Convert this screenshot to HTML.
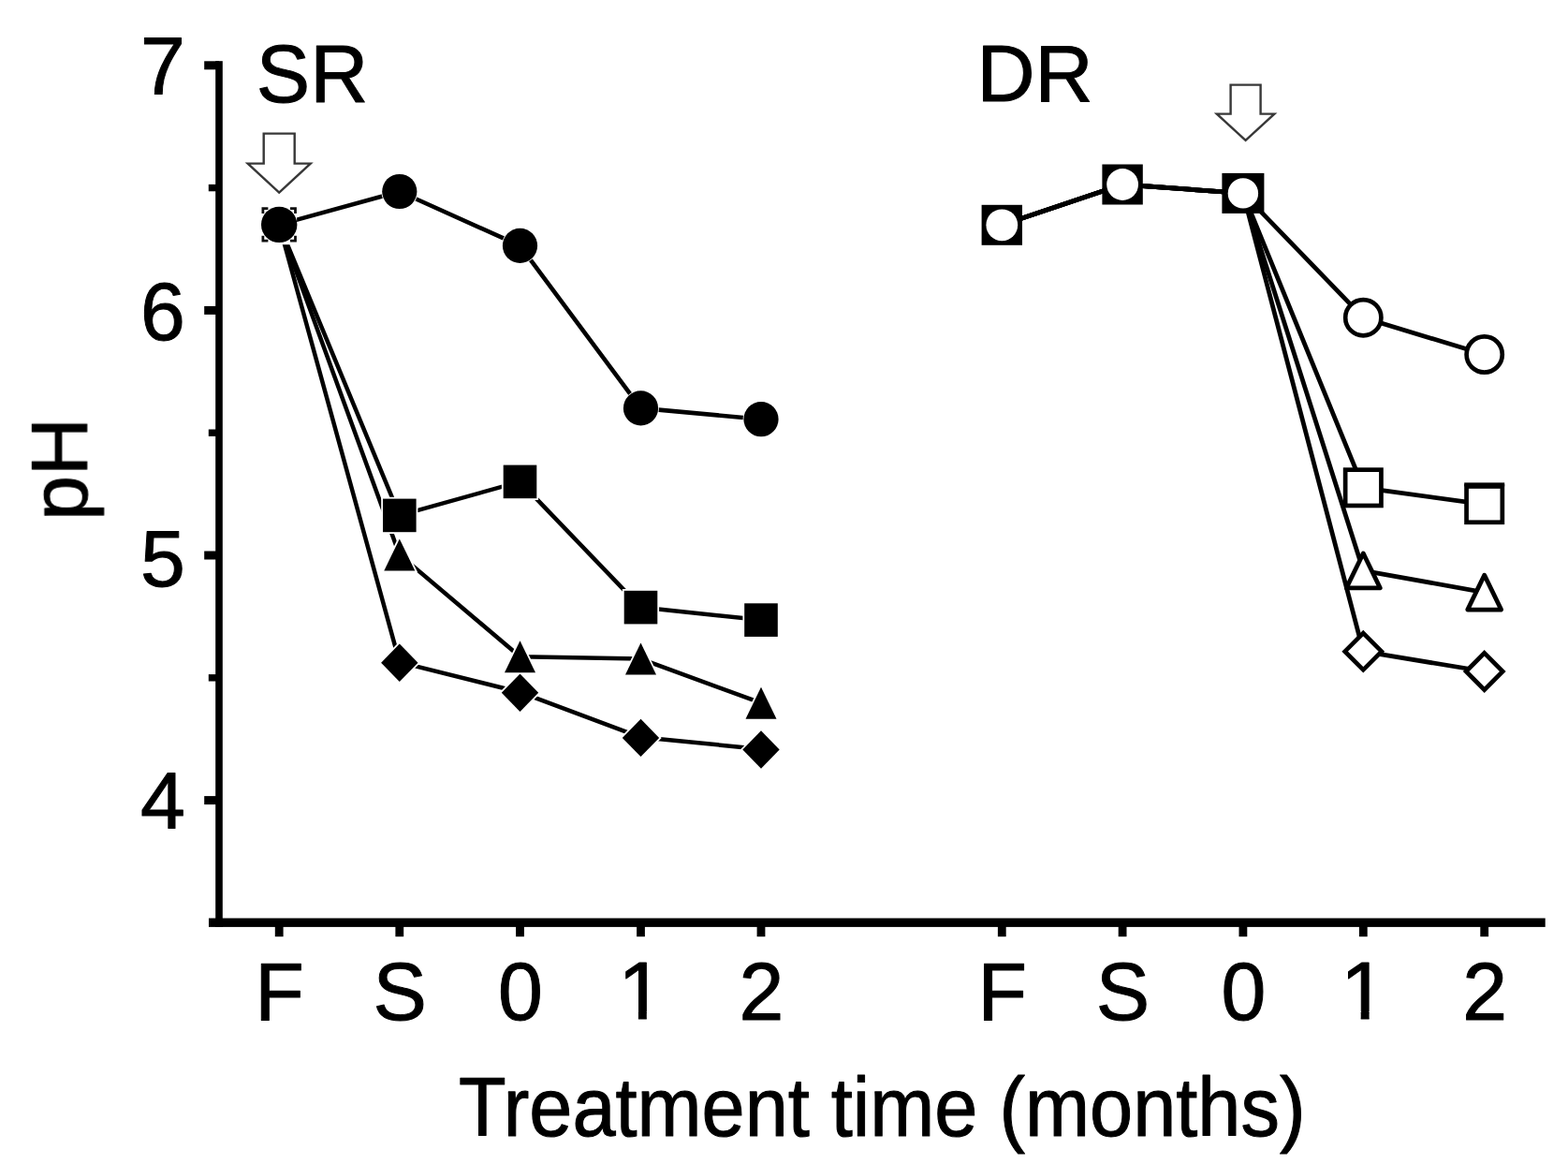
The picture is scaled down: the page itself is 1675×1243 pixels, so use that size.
<!DOCTYPE html>
<html lang="en"><head><meta charset="utf-8"><title>pH vs treatment time</title>
<style>
html,body{margin:0;padding:0;background:#fff;}
body{width:1675px;height:1243px;overflow:hidden;}
svg{display:block;}
text{font-family:"Liberation Sans",Arial,Helvetica,sans-serif;font-size:86px;fill:#000;stroke:#000;stroke-width:1px;stroke-linejoin:round;}
</style></head><body>
<svg width="1675" height="1243" viewBox="0 0 1675 1243">
<rect x="0" y="0" width="1675" height="1243" fill="#fff"/>
<g id="chart" filter="url(#soft)">
<g fill="#000">
<rect x="230.2" y="65.2" width="7.6" height="924.7"/>
<rect x="223" y="980.5" width="1427.7" height="9.4"/>
<rect x="218.2" y="65.3" width="15.8" height="9"/>
<rect x="218.2" y="326.9" width="15.8" height="9"/>
<rect x="218.2" y="588.5" width="15.8" height="9"/>
<rect x="218.2" y="850.1" width="15.8" height="9"/>
<rect x="222.8" y="196.9" width="11.2" height="7.4"/>
<rect x="222.8" y="458.5" width="11.2" height="7.4"/>
<rect x="222.8" y="720.1" width="11.2" height="7.4"/>
<rect x="293.8" y="985.2" width="8.8" height="15"/>
<rect x="422.4" y="985.2" width="8.8" height="15"/>
<rect x="551.1" y="985.2" width="8.8" height="15"/>
<rect x="680.1" y="985.2" width="8.8" height="15"/>
<rect x="808.6" y="985.2" width="8.8" height="15"/>
<rect x="1065.9" y="985.2" width="8.8" height="15"/>
<rect x="1194.7" y="985.2" width="8.8" height="15"/>
<rect x="1323.5" y="985.2" width="8.8" height="15"/>
<rect x="1451.9" y="985.2" width="8.8" height="15"/>
<rect x="1581.3" y="985.2" width="8.8" height="15"/>
</g>
<g>
<text transform="translate(173.8 101) scale(1 1.01)" text-anchor="middle">7</text>
<text transform="translate(173.8 363.3) scale(1 1.02)" text-anchor="middle">6</text>
<text transform="translate(173.8 625.5) scale(1 1)" text-anchor="middle">5</text>
<text transform="translate(173.8 884.1) scale(1 1)" text-anchor="middle">4</text>
<text transform="translate(298.6 1088.6) scale(1 1.02)" text-anchor="middle">F</text>
<text transform="translate(427.2 1088.6) scale(1 1.02)" text-anchor="middle">S</text>
<text transform="translate(555.9 1088.6) scale(1 1.02)" text-anchor="middle">0</text>
<text transform="translate(684.8 1088.3) scale(1.03 1.02)" text-anchor="middle" clip-path="url(#one)">1</text>
<text transform="translate(813.4 1088.6) scale(1 1.02)" text-anchor="middle">2</text>
<text transform="translate(1070.7 1088.6) scale(1 1.02)" text-anchor="middle">F</text>
<text transform="translate(1199.5 1088.6) scale(1 1.02)" text-anchor="middle">S</text>
<text transform="translate(1328.3 1088.6) scale(1 1.02)" text-anchor="middle">0</text>
<text transform="translate(1456.6 1088.3) scale(1.03 1.02)" text-anchor="middle" clip-path="url(#one)">1</text>
<text transform="translate(1586.1 1088.6) scale(1 1.02)" text-anchor="middle">2</text>
<text transform="translate(942.3 1212.8) scale(1 1.07)" text-anchor="middle" style="font-size:82.9px">Treatment time (months)</text>
<text transform="translate(333.5 108.8) scale(1 1.02)" text-anchor="middle">SR</text>
<text transform="translate(1105.6 108.4) scale(1 1)" text-anchor="middle">DR</text>
<text transform="translate(92.8 500.8) rotate(-90) scale(1 1)" text-anchor="middle">pH</text>
</g>
<polygon points="281.7,142.6 314.7,142.6 314.7,174.6 331.7,174.6 298.2,205.6 264.7,174.6 281.7,174.6" fill="#fff" stroke="#383838" stroke-width="2.4" stroke-linejoin="miter"/>
<polygon points="1314.6,90.6 1346.6,90.6 1346.6,121.6 1361.35,121.6 1330.6,149.8 1299.85,121.6 1314.6,121.6" fill="#fff" stroke="#383838" stroke-width="2.4" stroke-linejoin="miter"/>
<g id="sr">
<polyline points="298.2,239.9 426.8,707.1 555.5,739.2 684.5,787.3 813,799.9" fill="none" stroke="#000" stroke-width="4.5" stroke-linejoin="round"/>
<polyline points="298.2,239.9 426.8,592.4 555.5,701.2 684.5,703.6 813,750.7" fill="none" stroke="#000" stroke-width="4.5" stroke-linejoin="round"/>
<polyline points="298.2,239.9 426.8,550.4 555.5,514.4 684.5,648.6 813,662.1" fill="none" stroke="#000" stroke-width="4.5" stroke-linejoin="round"/>
<polyline points="298.2,239.9 426.8,204.5 555.5,262.4 684.5,435.9 813,447.7" fill="none" stroke="#000" stroke-width="4.6" stroke-linejoin="round"/>
<rect x="277.9" y="219.6" width="39.2" height="41.6" fill="#fff"/>
<rect x="280.9" y="222.6" width="34.6" height="34.6" fill="none" stroke="#111" stroke-width="2.8" stroke-dasharray="11 23.6" stroke-dashoffset="5.5"/>
<circle cx="298.2" cy="239.9" r="19.2" fill="#000"/>
<polygon points="426.8,687.5 446.5,707.7 426.8,727.9 407.1,707.7" fill="#000" stroke="#fff" stroke-width="3.6" paint-order="stroke"/>
<polygon points="555.5,719.6 575.2,739.8 555.5,760 535.8,739.8" fill="#000" stroke="#fff" stroke-width="3.6" paint-order="stroke"/>
<polygon points="684.5,767.7 704.2,787.9 684.5,808.1 664.8,787.9" fill="#000" stroke="#fff" stroke-width="3.6" paint-order="stroke"/>
<polygon points="813,780.3 832.7,800.5 813,820.7 793.3,800.5" fill="#000" stroke="#fff" stroke-width="3.6" paint-order="stroke"/>
<polygon points="426.8,575.4 443.3,609.4 410.3,609.4" fill="#000" stroke="#fff" stroke-width="3.6" paint-order="stroke"/>
<polygon points="555.5,684.2 572,718.2 539,718.2" fill="#000" stroke="#fff" stroke-width="3.6" paint-order="stroke"/>
<polygon points="684.5,686.6 701,720.6 668,720.6" fill="#000" stroke="#fff" stroke-width="3.6" paint-order="stroke"/>
<polygon points="813,733.7 829.5,767.7 796.5,767.7" fill="#000" stroke="#fff" stroke-width="3.6" paint-order="stroke"/>
<rect x="409" y="532.6" width="35.6" height="35.6" fill="#000" stroke="#fff" stroke-width="3.6" paint-order="stroke"/>
<rect x="537.7" y="496.6" width="35.6" height="35.6" fill="#000" stroke="#fff" stroke-width="3.6" paint-order="stroke"/>
<rect x="666.7" y="630.8" width="35.6" height="35.6" fill="#000" stroke="#fff" stroke-width="3.6" paint-order="stroke"/>
<rect x="795.2" y="644.3" width="35.6" height="35.6" fill="#000" stroke="#fff" stroke-width="3.6" paint-order="stroke"/>
<circle cx="426.8" cy="204.5" r="18.6" fill="#000" stroke="#fff" stroke-width="1.6" paint-order="stroke"/>
<circle cx="555.5" cy="262.4" r="18.6" fill="#000" stroke="#fff" stroke-width="1.6" paint-order="stroke"/>
<circle cx="684.5" cy="435.9" r="18.6" fill="#000" stroke="#fff" stroke-width="1.6" paint-order="stroke"/>
<circle cx="813" cy="447.7" r="18.6" fill="#000" stroke="#fff" stroke-width="1.6" paint-order="stroke"/>
</g>
<g id="dr">
<polyline points="1070.3,240.3 1199.1,197 1327.9,206.4 1456.3,695.7 1585.7,717" fill="none" stroke="#000" stroke-width="4.8" stroke-linejoin="round"/>
<polyline points="1070.3,240.3 1199.1,197 1327.9,206.4 1456.3,609.4 1585.7,632.6" fill="none" stroke="#000" stroke-width="4.8" stroke-linejoin="round"/>
<polyline points="1070.3,240.3 1199.1,197 1327.9,206.4 1456.3,520.8 1585.7,538.6" fill="none" stroke="#000" stroke-width="4.8" stroke-linejoin="round"/>
<polyline points="1070.3,240.3 1199.1,197 1327.9,206.4 1456.3,339.2 1585.7,378.5" fill="none" stroke="#000" stroke-width="4.8" stroke-linejoin="round"/>
<rect x="1048.6" y="218.8" width="43.4" height="43" fill="#000"/>
<circle cx="1070.3" cy="240.3" r="16.9" fill="#fff"/>
<rect x="1177.4" y="175.5" width="43.4" height="43" fill="#000"/>
<circle cx="1199.1" cy="197" r="16.9" fill="#fff"/>
<rect x="1305.4" y="184.9" width="45" height="43" fill="#000"/>
<circle cx="1327.9" cy="206.4" r="16.2" fill="#fff"/>
<polygon points="1456.3,676.1 1475.9,695.7 1456.3,715.3 1436.7,695.7" fill="#fff" stroke="#000" stroke-width="4.7" stroke-linejoin="miter"/>
<polygon points="1585.7,697.4 1605.3,717 1585.7,736.6 1566.1,717" fill="#fff" stroke="#000" stroke-width="4.7" stroke-linejoin="miter"/>
<polygon points="1456.3,590.9 1474.3,627.9 1438.3,627.9" fill="#fff" stroke="#000" stroke-width="4.7" stroke-linejoin="round"/>
<polygon points="1585.7,614.1 1603.7,651.1 1567.7,651.1" fill="#fff" stroke="#000" stroke-width="4.7" stroke-linejoin="round"/>
<rect x="1437.15" y="501.65" width="38.3" height="38.3" fill="#fff" stroke="#000" stroke-width="4.7"/>
<rect x="1566.55" y="519.45" width="38.3" height="38.3" fill="#fff" stroke="#000" stroke-width="4.7"/>
<circle cx="1456.3" cy="339.2" r="19.1" fill="#fff" stroke="#000" stroke-width="4.7"/>
<circle cx="1585.7" cy="378.5" r="19.1" fill="#fff" stroke="#000" stroke-width="4.7"/>
<rect x="1564.2" y="515.4" width="43" height="4" fill="#000"/>
</g>
</g>
<defs><clipPath id="one" clipPathUnits="userSpaceOnUse"><path d="M-30,-80 H30 V-8.2 H5.82 V3 H-2.8 V-8.2 H-30 Z"/></clipPath></defs>
<defs><filter id="soft" x="0" y="0" width="100%" height="100%" filterUnits="userSpaceOnUse"><feGaussianBlur stdDeviation="0.55"/></filter></defs>
</svg>
</body></html>
